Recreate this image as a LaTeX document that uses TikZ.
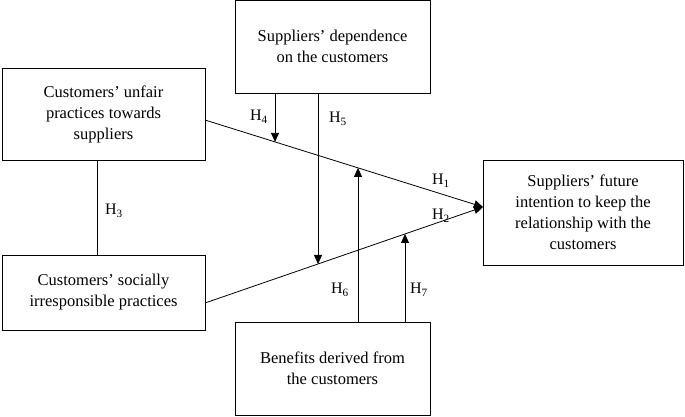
\documentclass[tikz,border=0pt]{standalone}
\usepackage{fontspec}
\setmainfont{Liberation Serif}
\usetikzlibrary{arrows.meta}
\begin{document}
\begin{tikzpicture}[x=1pt,y=-1pt,
  box/.style={draw,thick,minimum width=#1,align=center,inner sep=0pt,font=\fontsize{16.5}{21}\selectfont},
  arr/.style={thick,-{Triangle[length=9pt,width=8pt]}},
  lab/.style={font=\fontsize{16}{18}\selectfont}]
\useasboundingbox (0,0) rectangle (685,417);
\node[box=203pt,minimum height=92pt] (unfair) at (103.5,114) {Customers' unfair\\practices towards\\suppliers};
\node[box=203pt,minimum height=75pt] (social) at (103.5,292.5) {Customers' socially\\irresponsible practices};
\node[box=195pt,minimum height=93pt] (dep) at (332.5,46.5) {Suppliers' dependence\\on the customers};
\node[box=200pt,minimum height=105pt] (future) at (583,212.5) {Suppliers' future\\intention to keep the\\relationship with the\\customers};
\node[box=195pt,minimum height=93pt] (ben) at (332.5,368.5) {Benefits derived from\\the customers};

\coordinate (u) at (205,120);
\coordinate (s) at (205,303);
\coordinate (f) at (483,207);
\draw[arr] (u) -- (f);
\draw[arr] (s) -- (f);
\draw[thick] (unfair.south -| 97,0) -- (social.north -| 97,0);

\coordinate (h4) at (intersection of u--f and 275,0--275,400);
\coordinate (h5) at (intersection of s--f and 318,0--318,400);
\coordinate (h6) at (intersection of u--f and 358,0--358,400);
\coordinate (h7) at (intersection of s--f and 405,0--405,400);
\draw[arr] (dep.south -| h4) -- (h4);
\draw[arr] (dep.south -| h5) -- (h5);
\draw[arr] (ben.north -| h6) -- (h6);
\draw[arr] (ben.north -| h7) -- (h7);

\node[lab] (l1) at (441,181) {H\textsubscript{1}};
\node[lab] (l2) at (441,216) {H\textsubscript{2}};
\node[lab] (l3) at (114,211) {H\textsubscript{3}};
\node[lab] (l4) at (259,117) {H\textsubscript{4}};
\node[lab] (l5) at (338,119) {H\textsubscript{5}};
\node[lab] (l6) at (340,290) {H\textsubscript{6}};
\node[lab] (l7) at (419,290) {H\textsubscript{7}};
\end{tikzpicture}
\end{document}
